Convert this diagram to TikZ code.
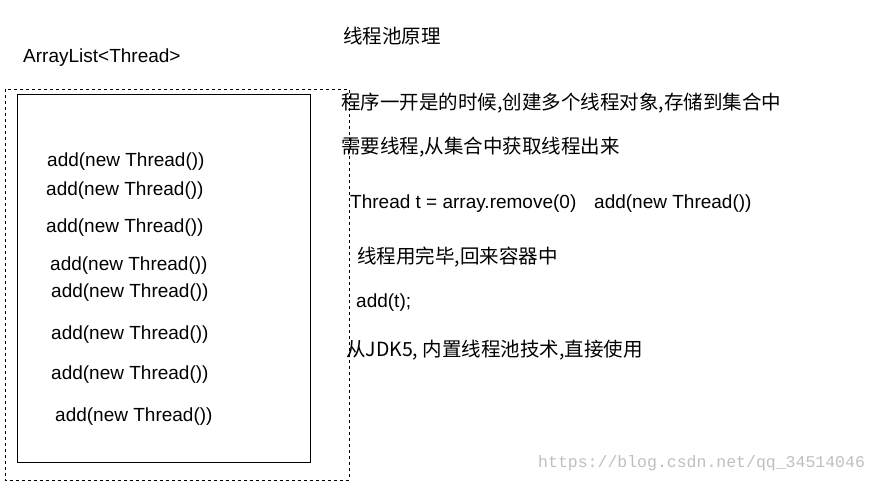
\documentclass[tikz,border=0pt]{standalone}
\usepackage{fontspec}
\setmainfont{Liberation Sans}
\newfontfamily\cjk{Noto Sans CJK SC}
\newfontfamily\wmfont{Liberation Mono}
\usetikzlibrary{positioning}
\tikzset{txt/.style={anchor=west,inner sep=0pt,font=\fontsize{19}{24}\selectfont},
  cjktxt/.style={anchor=west,inner sep=0pt,font=\fontsize{19.5}{24}\selectfont\cjk}}
\begin{document}
\begin{tikzpicture}[x=1pt, y=-1pt]
\useasboundingbox (0,0) rectangle (880,482);
\node [cjktxt] (title) at (343,36) {线程池原理};
\node [txt] (list)  at (23,58) {ArrayList<Thread>};

\draw [dashed] (5,89) rectangle (349,480);
\draw [thick] (17,94) rectangle (310,462);

\node [txt] (a1) at (47,162) {add(new Thread())};
\node [txt] (a2) at (46,191) {add(new Thread())};
\node [txt] (a3) at (46,228) {add(new Thread())};
\node [txt] (a4) at (50,266) {add(new Thread())};
\node [txt] (a5) at (51,293) {add(new Thread())};
\node [txt] (a6) at (51,335) {add(new Thread())};
\node [txt] (a7) at (51,375) {add(new Thread())};
\node [txt] (a8) at (55,417) {add(new Thread())};

\node [cjktxt] (l1) at (341,103) {程序一开是的时候,创建多个线程对象,存储到集合中};
\node [cjktxt] (l2) at (341,147) {需要线程,从集合中获取线程出来};
\node [txt]    (l3) at (350,204) {Thread t = array.remove(0)};
\node [txt]    (l4) at (594,204) {add(new Thread())};
\node [cjktxt] (l5) at (357,257) {线程用完毕,回来容器中};
\node [txt]    (l6) at (356,303) {add(t);};
\node [cjktxt] (l7) at (346,350) {从JDK5, 内置线程池技术,直接使用};

\node [anchor=west,inner sep=0pt,black!25,font=\fontsize{16.5}{20}\selectfont\wmfont] (wm) at (538,463) {https://blog.csdn.net/qq\_34514046};
\end{tikzpicture}
\end{document}
